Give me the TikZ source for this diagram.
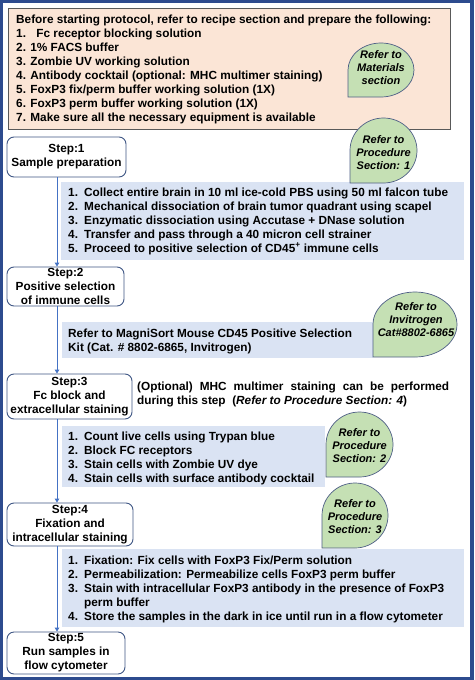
\documentclass[tikz,border=0pt]{standalone}
\usepackage{fontspec}
\setmainfont{Liberation Sans}
\usetikzlibrary{arrows.meta,calc}
\definecolor{frameblue}{HTML}{2D4B8E}
\definecolor{peach}{HTML}{FBE5D6}
\definecolor{peachedge}{HTML}{595959}
\definecolor{lightblue}{HTML}{DAE3F3}
\definecolor{bubgreen}{HTML}{C5E0B4}
\definecolor{bubedge}{HTML}{4F5F86}
\definecolor{stepedge}{HTML}{3F5785}
\definecolor{connblue}{HTML}{4472C4}
\newcommand{\tearpath}[4]{%
 \draw[bubble] (#1,#4) -- (#1,{(#2+#4)/2})
 .. controls (#1,{(#2+#4)/2-0.2761*(#4-#2)}) and ({(#1+#3)/2-0.2761*(#3-#1)},#2) .. ({(#1+#3)/2},#2)
 .. controls ({(#1+#3)/2+0.2761*(#3-#1)},#2) and (#3,{(#2+#4)/2-0.2761*(#4-#2)}) .. (#3,{(#2+#4)/2})
 .. controls (#3,{(#2+#4)/2+0.2761*(#4-#2)}) and ({(#1+#3)/2+0.2761*(#3-#1)},#4) .. ({(#1+#3)/2},#4)
 -- cycle;}
\newcommand{\nb}[1]{\makebox[16pt][l]{#1}}
\begin{document}
\begin{tikzpicture}[x=1pt,y=-1pt,
  txt/.style={font=\bfseries\fontsize{11.8pt}{14pt}\selectfont, inner sep=0pt, align=left, anchor=west},
  prepbox/.style={draw=peachedge, fill=peach, line width=0.8pt, anchor=north west, inner sep=0pt},
  listbox/.style={fill=lightblue, draw=none, anchor=north west, inner sep=0pt},
  stepbox/.style={draw=stepedge, fill=white, line width=0.9pt, rounded corners=7pt, align=center, inner sep=0pt,
     font=\bfseries\fontsize{11.8pt}{14pt}\selectfont},
  bubble/.style={draw=bubedge, fill=bubgreen, line width=0.7pt},
  bubtext/.style={font=\bfseries\itshape\fontsize{11pt}{13pt}\selectfont, align=center, inner sep=0pt},
  conn/.style={draw=connblue, line width=0.9pt, -{Triangle[length=4pt,width=4.5pt]}}
]
\useasboundingbox (0,0) rectangle (474,680);
\fill[frameblue] (0,0) rectangle (474,680);
\fill[white] (3,3) rectangle (470,677);

% preparation box
\node[prepbox, minimum width=442pt, minimum height=121pt] (prep) at (8,8) {};
\node[txt] (preptxt) at (16,69.5) {Before starting protocol, refer to recipe section and prepare the following:\\
1.\hspace{6pt} Fc receptor blocking solution\\
2. 1\% FACS buffer\\
3. Zombie UV working solution\\
4. Antibody cocktail (optional: MHC multimer staining)\\
5. FoxP3 fix/perm buffer working solution (1X)\\
6. FoxP3 perm buffer working solution (1X)\\
7. Make sure all the necessary equipment is available};

% list boxes
\node[listbox, minimum width=403pt, minimum height=78pt] (b1) at (61,182) {};
\node[txt] (b1txt) at (68,221) {\nb{1.}Collect entire brain in 10 ml ice-cold PBS using 50 ml falcon tube\\
\nb{2.}Mechanical dissociation of brain tumor quadrant using scapel\\
\nb{3.}Enzymatic dissociation using Accutase + DNase solution\\
\nb{4.}Transfer and pass through a 40 micron cell strainer\\
\nb{5.}Proceed to positive selection of CD45\textsuperscript{+} immune cells};

\node[listbox, minimum width=311pt, minimum height=36pt] (b2) at (62,322) {};
\node[txt] (b2txt) at (68,341) {Refer to MagniSort Mouse CD45 Positive Selection\\
Kit (Cat. \# 8802-6865, Invitrogen)};

\node[listbox, minimum width=263pt, minimum height=61pt] (b3) at (62,426) {};
\node[txt] (b3txt) at (68,458.5) {\nb{1.}Count live cells using Trypan blue\\
\nb{2.}Block FC receptors\\
\nb{3.}Stain cells with Zombie UV dye\\
\nb{4.}Stain cells with surface antibody cocktail};

\node[listbox, minimum width=402pt, minimum height=78pt] (b4) at (62,549) {};
\node[txt] (b4txt) at (68,589) {\nb{1.}Fixation: Fix cells with FoxP3 Fix/Perm solution\\
\nb{2.}Permeabilization: Permeabilize cells FoxP3 perm buffer\\
\nb{3.}Stain with intracellular FoxP3 antibody in the presence of FoxP3\\
\hspace*{16pt}perm buffer\\
\nb{4.}Store the samples in the dark in ice until run in a flow cytometer};

% optional note
\node[txt] (opt) at (137,394.5) {\makebox[312pt][s]{(Optional) MHC multimer staining can be performed}\\
during this step\ \ (\textit{Refer to Procedure Section: 4})};

% step boxes
\node[stepbox, minimum width=119pt, minimum height=40pt] (s1) at (66.5,157) {Step:1\\Sample preparation};
\node[stepbox, minimum width=117pt, minimum height=39pt] (s2) at (65.5,286.5) {Step:2\\Positive selection\\of immune cells};
\node[stepbox, minimum width=125pt, minimum height=45pt] (s3) at (69.5,396.5) {Step:3\\Fc block and\\extracellular staining};
\node[stepbox, minimum width=126pt, minimum height=43pt] (s4) at (70,524.5) {Step:4\\Fixation and\\intracellular staining};
\node[stepbox, minimum width=118pt, minimum height=42pt] (s5) at (66,653) {Step:5\\Run samples in\\flow cytometer};

% connectors
\coordinate (xl) at (57,0);
\draw[conn] (s1.south -| xl) -- (s2.north -| xl);
\draw[conn] (s2.south -| xl) -- (s3.north -| xl);
\draw[conn] (s3.south -| xl) -- (s4.north -| xl);
\draw[conn] (s4.south -| xl) -- (s5.north -| xl);

% bubbles
\tearpath{348}{43}{414}{97}
\node[bubtext] (r0) at (381,68) {Refer to\\Materials\\section};
\tearpath{350}{118}{417}{183}
\node[bubtext] (r1) at (383.5,153) {Refer to\\Procedure\\Section: 1};
\tearpath{373}{292}{457}{357}
\node[bubtext] (r2) at (416,320) {Refer to\\Invitrogen\\Cat\#8802-6865};
\tearpath{326}{412}{393}{477}
\node[bubtext] (r3) at (359.5,446) {Refer to\\Procedure\\Section: 2};
\tearpath{322}{483}{388}{548}
\node[bubtext] (r4) at (355,517) {Refer to\\Procedure\\Section: 3};
\end{tikzpicture}
\end{document}
